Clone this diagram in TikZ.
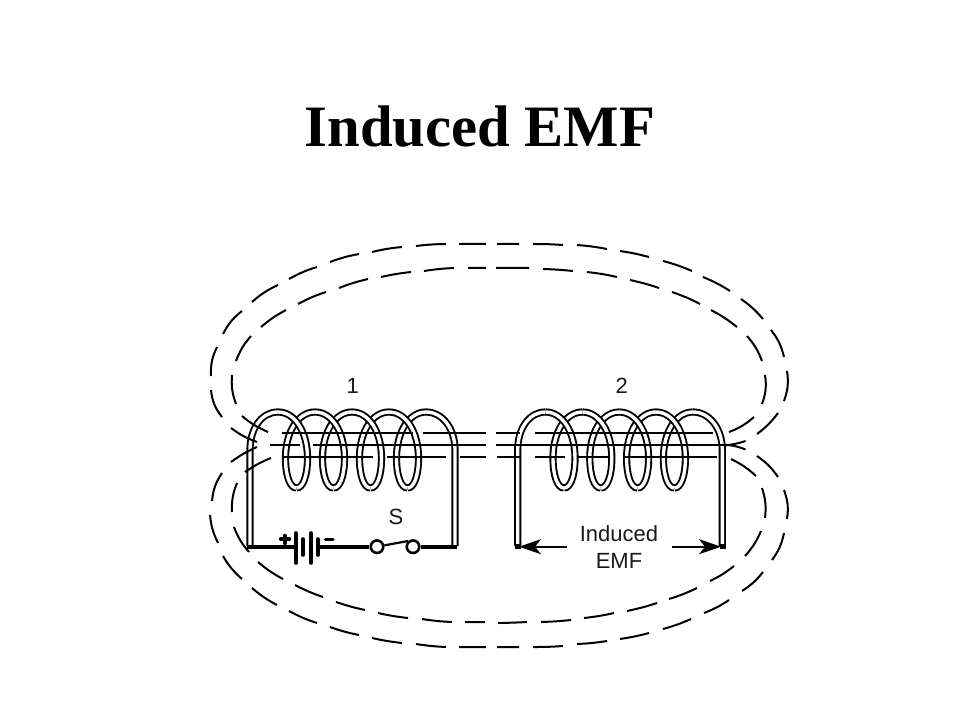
\documentclass[tikz,border=0pt]{standalone}
\usepackage{fontspec}
\setmainfont{Liberation Serif}
\setsansfont{Liberation Sans}
\usetikzlibrary{arrows.meta}
\tikzset{
  fieldln/.style={line width=2pt,black},
  wirecoil/.style={double=white,double distance=3.4pt,line width=1.9pt,draw=black},
  leadwire/.style={line width=4pt,black},
  plate/.style={line width=3.6pt,black,line cap=round},
  lbl/.style={font=\sffamily\fontsize{22}{24}\selectfont,text=black!90,inner sep=0pt},
  term/.style={circle,draw=black,line width=2.6pt,fill=white,minimum size=12.5pt,inner sep=0pt},
  emfarrow/.style={line width=2pt,-{Stealth[length=22pt,width=15pt,inset=6pt]}}
}
\begin{document}
\begin{tikzpicture}[x=1pt,y=-1pt]
\useasboundingbox (0,0) rectangle (960,720);
\node[font=\bfseries\fontsize{58.67}{60}\selectfont,anchor=base,inner sep=0pt] (title) at (480,146.5) {Induced EMF};

% back strands
\foreach \dx in {0,37,74,111}{
  \draw[wirecoil] (296.5+\dx,488) .. controls (290+\dx,488) and (285.5+\dx,476) .. (285.5+\dx,458) .. controls (285.5+\dx,432) and (298+\dx,412) .. (315+\dx,412);
}
\foreach \dx in {0,36.8,73.6,110.4}{
  \draw[wirecoil] (564+\dx,488) .. controls (557.5+\dx,488) and (553+\dx,476) .. (553+\dx,458) .. controls (553+\dx,432) and (565.5+\dx,412) .. (582.5+\dx,412);
}
% front strands
\foreach \dx in {0,37,74,111}{
  \draw[wirecoil] (278+\dx,412) .. controls (295+\dx,412) and (307.5+\dx,432) .. (307.5+\dx,458) .. controls (307.5+\dx,476) and (303+\dx,488) .. (296.5+\dx,488);
}
\foreach \dx in {0,36.8,73.6,110.4}{
  \draw[wirecoil] (545.5+\dx,412) .. controls (562.5+\dx,412) and (575+\dx,432) .. (575+\dx,458) .. controls (575+\dx,476) and (570.5+\dx,488) .. (564+\dx,488);
}
% coil ends
\draw[wirecoil] (250,546) -- (250,450) .. controls (250,428) and (262,412) .. (278,412);
\draw[wirecoil] (426,412) .. controls (442,412) and (455,428) .. (455,450) -- (455,546);
\draw[wirecoil] (517.7,546) -- (517.7,450) .. controls (517.7,428) and (529.5,412) .. (545.5,412);
\draw[wirecoil] (693,412) .. controls (709,412) and (722.3,428) .. (722.3,450) -- (722.3,546);

% field lines through the coils
\foreach \a/\b/\c in {282/413/433,423/486/433,270/300/445,313/486/445,283/373/457,387/446/457,460/486/457,
  496/520/433,535/713/433,496/725/445,497/520/457,535/565/457,578/610/457,623/717/457}{
  \draw[fieldln] (\a,\c) -- (\b,\c);
}

% circuit of coil 1
\coordinate (wl) at (247,546.7);
\coordinate (wr) at (457,546.7);
\node[term] (k1) at (377,546.7) {};
\node[term] (k2) at (413,546.7) {};
\coordinate (bl) at (296,546.7);
\coordinate (br) at (318,546.7);
\draw[leadwire] (wl) -- (bl);
\draw[leadwire] (br) -- (k1);
\draw[leadwire] (k2) -- (wr);
\draw[line width=2.2pt] (k1) -- (408,541);
\draw[plate] (296,533) -- (296,563);
\draw[plate] (303,539) -- (303,555);
\draw[plate] (311,533) -- (311,563);
\draw[plate] (318,539) -- (318,555);
\draw[line width=3.4pt,line cap=round] (280.5,539) -- (289.5,539) (285,535.5) -- (285,543.5);
\draw[line width=3.2pt,line cap=round] (325.5,539.5) -- (333,539.5);

% Induced EMF arrows
\coordinate (al) at (567,546.7);
\coordinate (ar) at (672,546.7);
\coordinate (tl) at (519,546.7);
\coordinate (tr) at (721,546.7);
\draw[emfarrow] (al) -- (tl);
\draw[emfarrow] (ar) -- (tr);
\fill (514.5,544.2) rectangle (521,549.2);
\fill (719.5,544.2) rectangle (726,549.2);

% field arrow chevron
\draw[fieldln] (745.5,441) .. controls (738,443.5) and (732,445) .. (725,445) .. controls (732,445) and (738,446.5) .. (745.5,449.5);

% field dashes (clockwise on screen)
\foreach \a/\b/\c/\d/\e in {
  222/417/211/390/16, 211/376/217/347/14, 223/334/242/311/12, 252/302/278/285/8, 289/279/317/267/6,
  330/262/359/254/5, 372/252/402/247/4, 416/246/446/244/3, 459/244/486/244/1, 497/244/519/244/1,
  533/244/563/245/2, 577/245/607/249/3, 620/251/649/257/3, 663/261/692/271/4, 703/277/730/291/5,
  741/299/763/319/7, 771/330/784/357/12, 787/371/784/401/14,
  236/404/232/375/12, 236/361/251/336/10, 261/327/286/310/6, 298/304/326/292/5, 339/288/368/279/4,
  381/277/411/272/3, 424/271/454/268/3, 468/268/486/268/1, 496/268/529/268/1, 543/269/573/271/2,
  587/272/617/277/3, 630/280/659/288/3, 672/292/700/304/4, 711/310/737/327/5, 747/336/762/361/10,
  765/375/762/404/14,
  757/456/778/477/10, 784/490/787/519/14, 784/533/772/560/12, 763/572/742/591/9, 729/600/704/613/6,
  691/619/663/629/4, 649/633/620/639/3, 607/641/577/644/3, 563/646/533/647/2, 519/647/497/647/1,
  486/647/459/647/1, 446/647/416/644/3, 402/643/372/638/3, 359/635/330/627/4, 317/623/289/611/5,
  277/605/252/588/6, 242/579/223/556/9, 218/543/210/515/10, 212/501/222/473/14,
  762/488/765/518/12, 761/531/745/556/9, 734/566/710/581/6, 697/588/669/599/4, 657/603/627/611/3,
  614/613/584/618/3, 571/620/541/622/2, 527/622/498/623/1, 485/622/465/622/1, 452/622/422/619/3,
  408/618/378/613/3, 365/610/336/602/3, 323/597/295/585/4, 283/579/258/562/6, 249/552/234/527/10,
  232/512/237/483/12
}{
  \draw[fieldln] (\a,\b) to[bend left=\e] (\c,\d);
}
% pinch dashes
\foreach \a/\b/\c/\d/\e in {
  242/416/268/432/8, 231/428/257/442/8, 231/462/257/447/-6, 245/472/271/458/-6,
  729/432/754/417/10, 757/434/778/413/8, 731/459/756/476/-8
}{
  \draw[fieldln] (\a,\b) to[bend right=\e] (\c,\d);
}

\node[lbl] (n1) at (352.7,385.5) {1};
\node[lbl] (n2) at (621.7,385.5) {2};
\node[lbl] (s) at (396,517) {S};
\node[lbl] (ind) at (619,534) {Induced};
\node[lbl] (emf) at (619,561) {EMF};
\end{tikzpicture}
\end{document}
